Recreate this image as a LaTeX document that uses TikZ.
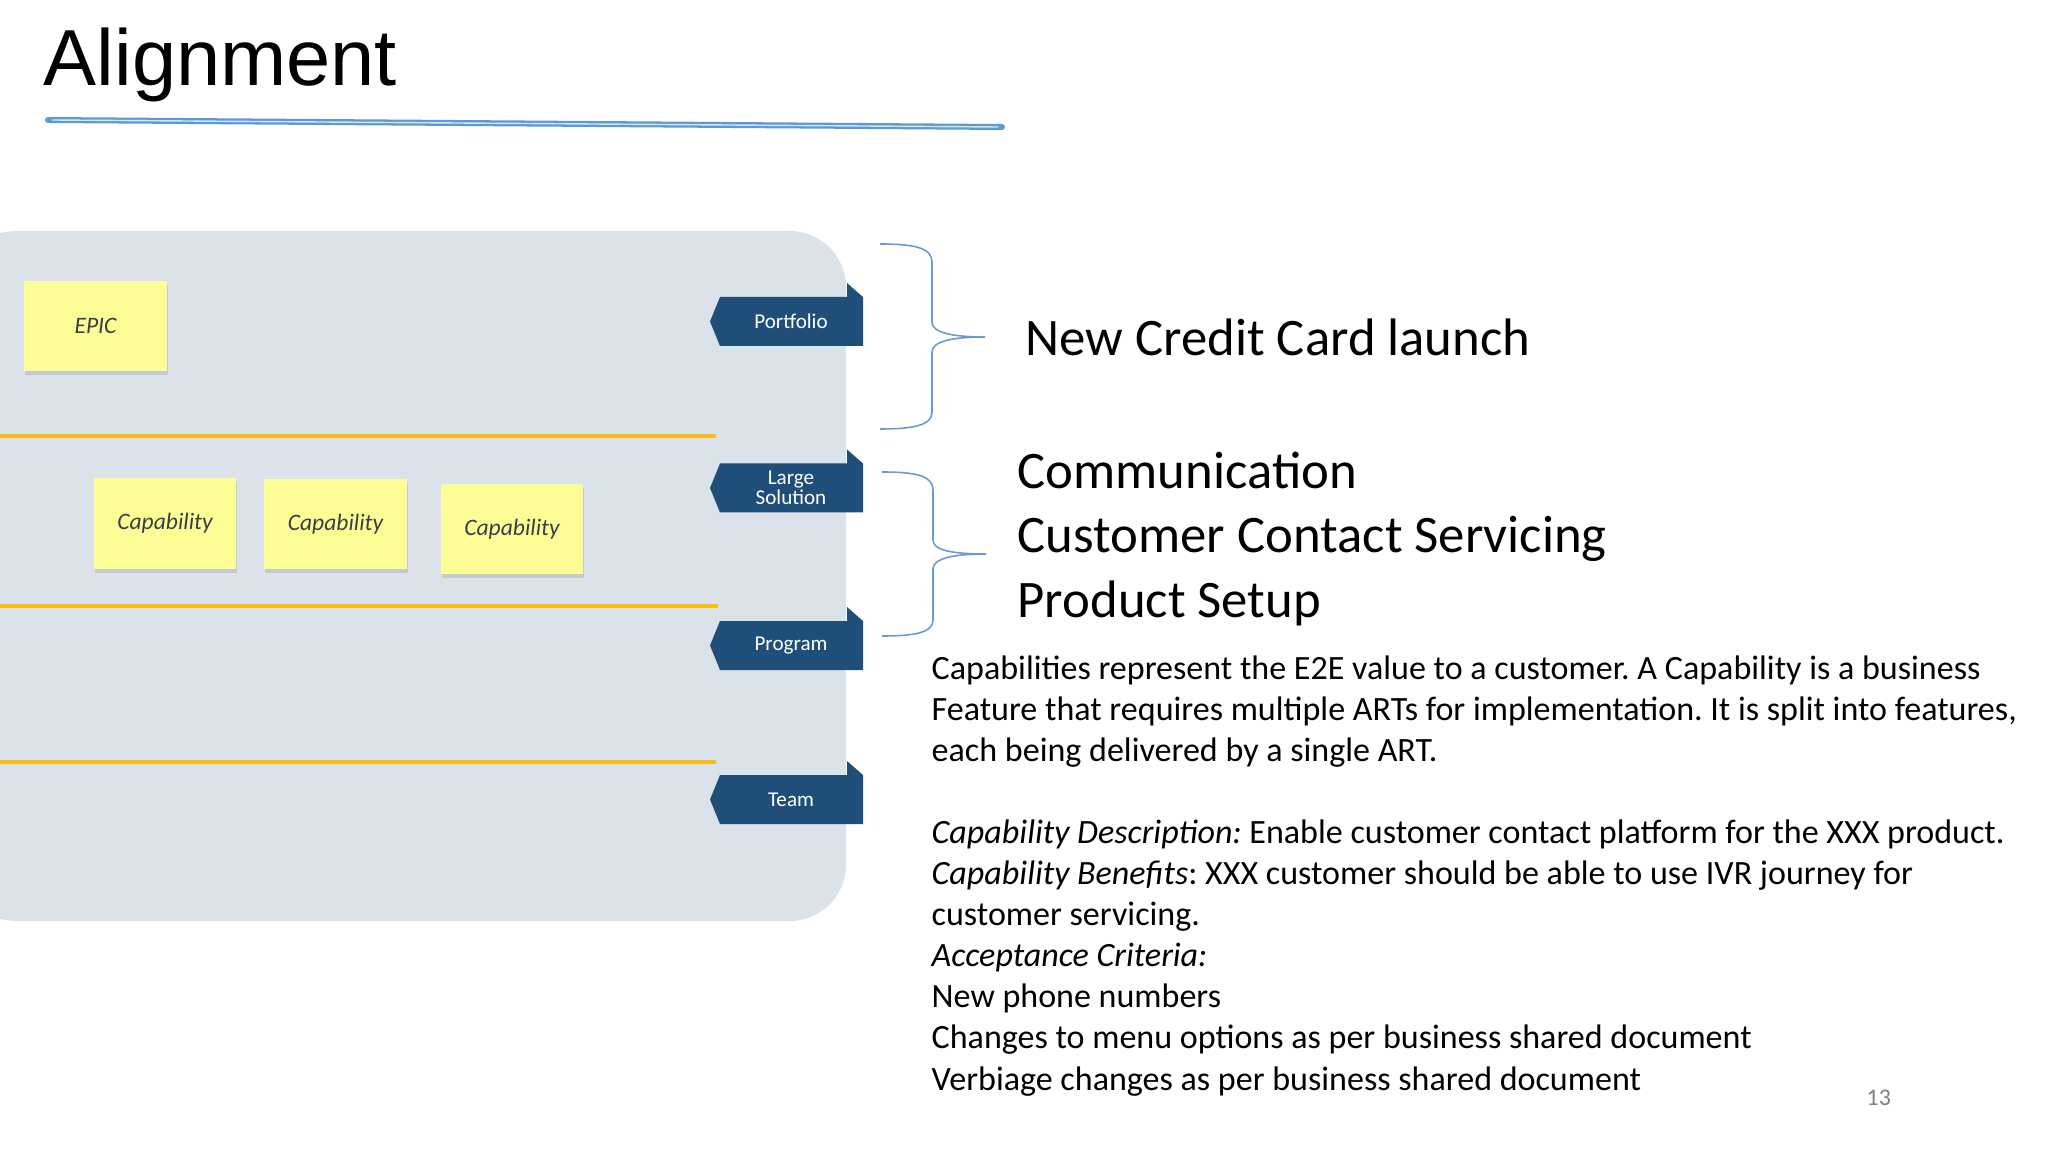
\documentclass[tikz,border=0pt]{standalone}
\usepackage{fontspec}
\setmainfont{Carlito}
\newfontfamily\titlefont{Liberation Sans}
\usepackage{xcolor}
\usetikzlibrary{positioning, shadows}
\frenchspacing

\definecolor{panelgray}{HTML}{DCE2E9}
\definecolor{tagblue}{HTML}{1F4E79}
\definecolor{lanegold}{HTML}{F6BE16}
\definecolor{noteyellow}{HTML}{FDFD96}
\definecolor{notetext}{HTML}{3A3F47}
\definecolor{braceblue}{HTML}{6A9AD0}
\definecolor{ruleblue}{HTML}{5B9BD5}

\tikzset{
  tagflag/.pic={
    \fill[tagblue] (-80,0) -- (-70,-24.5) -- (57,-24.5) -- (57,-38.5) -- (73,-24.5)
      -- (73,24.5) -- (-70,24.5) -- cycle;
    \node[tagtext] (-label) at (1,0) {#1};
  }
}

\begin{document}
\begin{tikzpicture}[x=0.01cm, y=-0.01cm,
  sticky/.style={fill=noteyellow, minimum width=1.42cm, minimum height=0.9cm,
                 font=\fontsize{6.7}{8}\selectfont\itshape, text=notetext,
                 drop shadow={shadow xshift=0.01cm, shadow yshift=-0.04cm,
                              opacity=0.1, fill=black}},
  tagtext/.style={text=white, align=center, inner sep=0,
                  font=\fontsize{6}{5.7}\selectfont},
  lane/.style={lanegold, line width=1.1pt},
  bracket/.style={braceblue, line width=0.45pt},
  heading/.style={anchor=base west, inner sep=0, font=\fontsize{15}{18.2}\selectfont}
]
  \useasboundingbox (0,0) rectangle (2048,1152);
  \clip (0,0) rectangle (2048,1152);
  \fill[white] (0,0) rectangle (2048,1152);

  % title
  \node[anchor=base west, inner sep=0, font=\titlefont\fontsize{22.6}{27}\selectfont]
    (title) at (43,86) {Alignment};
  \draw[ruleblue, line width=1.7pt, line cap=round] (48,120) -- (1002,127);
  \draw[ruleblue!25, line width=0.4pt, line cap=round] (52,120) -- (998,127);

  % levels panel
  \fill[panelgray, rounded corners=16] (-40,231) rectangle (846,921);
  \draw[lane] (0,436) -- (716,436);
  \draw[lane] (0,606) -- (718,606);
  \draw[lane] (0,762) -- (716,762);

  \pic (portfolio) at (790,321.5) {tagflag={Portfolio}};
  \pic (solution) at (790,488) {tagflag={Large\\Solution}};
  \pic (program) at (790,645.5) {tagflag={Program}};
  \pic (team) at (790,799.5) {tagflag={Team}};

  \node[sticky] (epic) at (95.5,326) {EPIC};
  \node[sticky] (cap1) at (165,523.5) {Capability};
  \node[sticky] (cap2) at (335.5,524) {Capability};
  \node[sticky] (cap3) at (512,529) {Capability};

  % braces
  \draw[bracket] (880,244) .. controls (915,244) and (932,248) .. (932,262) -- (932,322)
    .. controls (932,332) and (950,337) .. (985,337)
    .. controls (950,337) and (932,342) .. (932,352) -- (932,412)
    .. controls (932,425) and (915,429) .. (880,429);
  \draw[bracket] (882,472) .. controls (917,472) and (933,476) .. (933,490) -- (933,540)
    .. controls (933,550) and (951,554) .. (986,554)
    .. controls (951,554) and (933,559) .. (933,569) -- (933,620)
    .. controls (933,632) and (917,636) .. (882,636);

  % texts (base = last line)
  \node[heading] (launch) at (1025,356) {New Credit Card launch};
  \node[heading, align=left] (areas) at (1017,617)
    {Communication\\Customer Contact Servicing\\Product Setup};

  \node[anchor=base west, inner sep=0, align=left, font=\fontsize{9.68}{11.68}\selectfont]
    (desc) at (931,1090) {%
    Capabilities represent the E2E value to a customer. A Capability is a business\\
    Feature that requires multiple ARTs for implementation. It is split into features,\\
    each being delivered by a single ART.\\
    \mbox{}\\
    \textit{Capability Description:} Enable customer contact platform for the XXX product.\\
    \textit{Capability Benefits}: XXX customer should be able to use IVR journey for\\
    customer servicing.\\
    \textit{Acceptance Criteria:}\\
    New phone numbers\\
    Changes to menu options as per business shared document\\
    Verbiage changes as per business shared document};

  \node[anchor=base west, inner sep=0, text=gray, font=\fontsize{6.8}{8}\selectfont]
    (pagenum) at (1866,1105) {13};
\end{tikzpicture}
\end{document}
